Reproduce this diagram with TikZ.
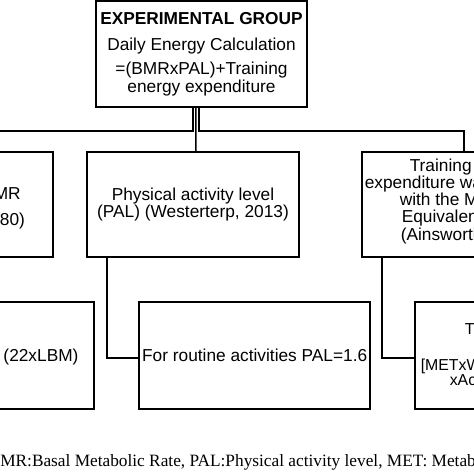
\documentclass[tikz,border=0pt]{standalone}
\usepackage{fontspec}
\setmainfont{Liberation Sans}
\newfontfamily\notefont{Liberation Serif}
\begin{document}
\begin{tikzpicture}[scale=0.02439, line width=1.1pt]
\tikzstyle{every node}+=[inner sep=0pt, font=\fontsize{12}{12}\selectfont]
\tikzstyle{block}=[draw, rectangle, align=center, minimum height=72.9pt]
\tikzstyle{lowblock}=[draw, rectangle, align=center, minimum width=160.2pt, minimum height=74pt]
\tikzstyle{small}=[font=\fontsize{11}{11}\selectfont]
\useasboundingbox (0,0) rectangle (474,-474);
\fill[white] (0,0) rectangle (474,-474);
\clip (0,0) rectangle (474,-474);
% top box
\node[block, minimum width=146.4pt, minimum height=73.6pt] (group) at (201.5,-54.2)
  {\textbf{EXPERIMENTAL GROUP}\\[5.8pt] Daily Energy Calculation\\[4.8pt] =(BMRxPAL)+Training\\ energy expenditure};
% second row
\node[block, minimum width=140.9pt] (bmr) at (-48.5,-204.5) {};
\node[block, minimum width=147.1pt] (pal) at (193,-204.5) {Physical activity level\\ (PAL) (Westerterp, 2013)};
\node[block, minimum width=141.6pt] (tee) at (464,-204.5) {};
% third row
\node[lowblock] (bmrcalc) at (-21.5,-355.5) {};
\node[lowblock] (palcalc) at (254.7,-355.5) {For routine activities PAL=1.6};
\node[lowblock] (teecalc) at (530.5,-355.5) {};
% texts cut at the edges
\node[anchor=base east] (bmr1) at (21.5,-199.3) {MR};
\node[anchor=base east] (bmr2) at (25.7,-225) {80)};
\node[anchor=base west] (bmr3) at (2.7,-361.7) {(22xLBM)};
\node[anchor=base west] (tee1) at (409,-171.5) {Training};
\node[anchor=base west] (tee2) at (364,-188.5) {expenditure wa};
\node[anchor=base west] (tee3) at (399,-205.5) {with the M};
\node[anchor=base west] (tee4) at (401,-222.5) {Equivalen};
\node[anchor=base west] (tee5) at (400,-240) {(Ainsworth};
\node[small, anchor=base west] (calc1) at (464,-334) {T};
\node[small, anchor=base west] (calc2) at (420,-370) {[METxW};
\node[small, anchor=base west] (calc3) at (449,-385) {xAc};
\node[anchor=base west, font=\notefont\fontsize{12}{12}\selectfont] (note) at (-0.5,-466.7)
  {MR:Basal Metabolic Rate, PAL:Physical activity level, MET: Metab};
% connectors
\draw (group.south) ++(-8.8,0) -- ++(0,-23) -| (bmr.north);
\draw (group.south) ++(-5.7,0) coordinate (mid) -- (mid |- pal.north);
\draw (group.south) ++(-2.5,0) -- ++(0,-23) -| (tee.north);
\draw (palcalc.west) ++(0,-2.2) coordinate (palin) (pal.south west) ++(21,0) |- (palin);
\draw (teecalc.west) ++(0,-2.2) coordinate (teein) (tee.south west) ++(20.7,0) |- (teein);
\end{tikzpicture}
\end{document}
